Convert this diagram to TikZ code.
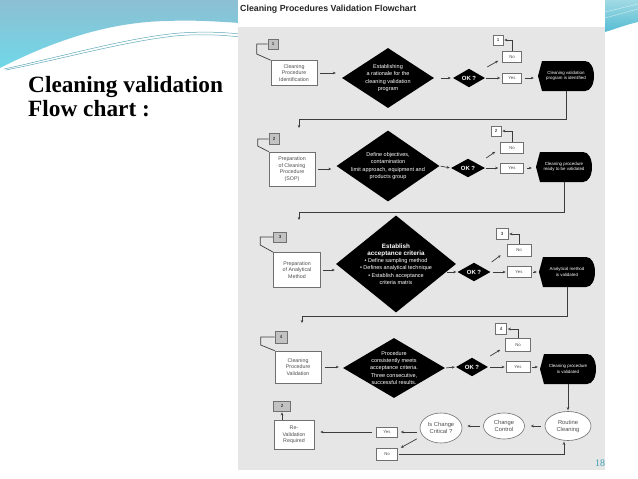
\documentclass[tikz,border=0pt]{standalone}
\usepackage{fontspec}
\setmainfont{Liberation Serif}
\newfontfamily\arialf{Liberation Sans}
\usetikzlibrary{shapes.geometric,arrows.meta,calc}
\definecolor{panel}{HTML}{E6E6E6}
\definecolor{lineg}{HTML}{3C3C3C}
\definecolor{boxg}{HTML}{707070}
\definecolor{txtg}{HTML}{4E4E4E}
\definecolor{numg}{HTML}{C2C2C2}
\definecolor{pgnum}{HTML}{3A9DB0}
\definecolor{swtop}{HTML}{8DBFD3}
\definecolor{swbot}{HTML}{6FD8E8}
\definecolor{swline}{HTML}{5FA9B9}
\definecolor{swrt}{HTML}{A0DAE4}
\definecolor{swrb}{HTML}{55BCD4}
\tikzset{
 proc/.style={draw=boxg, fill=white, line width=0.6pt, inner sep=0pt, align=center, text=txtg, font=\arialf\fontsize{5.3}{6.6}\selectfont},
 numL/.style={draw=boxg, fill=numg, line width=0.6pt, inner sep=0pt, minimum width=10pt, minimum height=10pt, font=\arialf\fontsize{4.5}{5}\selectfont, text=black},
 numR/.style={numL, fill=white},
 yn/.style={draw=boxg, fill=white, line width=0.6pt, inner sep=0pt, font=\arialf\fontsize{4.3}{5}\selectfont, text=txtg},
 dia/.style={diamond, fill=black, inner sep=0pt},
 diatext/.style={text=white, align=center, inner sep=0pt, font=\arialf\fontsize{5.5}{7.2}\selectfont},
 okd/.style={diamond, fill=black, inner sep=0pt, text=white, font=\arialf\bfseries\fontsize{6}{7}\selectfont},
 ell/.style={ellipse, draw=boxg, fill=white, line width=0.6pt, inner sep=0pt, align=center, text=txtg, font=\arialf\fontsize{5.8}{7}\selectfont},
 conn/.style={draw=lineg, line width=0.7pt, -{Stealth[length=3pt,width=2.6pt]}},
 plain/.style={draw=lineg, line width=0.7pt},
 termtext/.style={inner sep=0pt, minimum width=56pt, minimum height=30pt, text=white, align=center, font=\arialf\fontsize{4.4}{5.6}\selectfont},
}
\newcommand\termbox[4]{%
 \begin{scope}[shift={(#2,#3)}]
 \fill[black] (-28,0) -- (-24,-15) -- (19,-15) .. controls (31,-15) and (31,15) .. (19,15) -- (-24,15) -- cycle;
 \node[termtext] (#1) at (0,0) {#4};
 \end{scope}}
\newcommand\bigb[1]{{\bfseries\fontsize{6.3}{7.4}\selectfont #1}}
\begin{document}
\begin{tikzpicture}[x=1pt,y=-1pt]
\useasboundingbox (0,0) rectangle (638,479);
\fill[white] (0,0) rectangle (638,479);
% top-left swoosh
\shade[top color=swtop, bottom color=swbot] (0,0) -- (240,0) -- (240,23) .. controls (210,21) and (190,20) .. (167,21) .. controls (110,22) and (55,40) .. (0,68) -- cycle;
\draw[swline, line width=0.5pt] (4,69) .. controls (60,57) and (130,37) .. (180,33) .. controls (210,31) and (230,33) .. (240,34);
\draw[swline, line width=0.5pt] (6,70) .. controls (62,59) and (130,40) .. (180,35.5) .. controls (210,33.5) and (230,36) .. (240,37);
% top-right swoosh
\shade[top color=swrt, bottom color=swrb] (605,0) -- (638,0) -- (638,22) .. controls (625,25) and (615,29) .. (605,32) -- cycle;
\draw[white, opacity=0.6, line width=0.4pt] (605,12) -- (638,4);
\draw[white, opacity=0.6, line width=0.4pt] (605,18) -- (638,9);
% flowchart image
\fill[white] (238,0) rectangle (605,27);
\fill[panel] (238,27) rectangle (605,470);
\node[anchor=base west, inner sep=0pt, font=\arialf\bfseries\fontsize{8.8}{10}\selectfont, text=black!85] (title) at (240,12) {Cleaning Procedures Validation Flowchart};
% left title
\node[anchor=base west, inner sep=0pt, font=\bfseries\fontsize{23.3}{26}\selectfont] (lt1) at (28,92) {Cleaning validation};
\node[anchor=base west, inner sep=0pt, font=\bfseries\fontsize{23.3}{26}\selectfont] (lt2) at (28,116) {Flow chart :};
\node[anchor=base west, inner sep=0pt, font=\fontsize{10}{12}\selectfont, text=pgnum] (pg) at (595,466) {18};

% ---------- Row 1
\node[numL] (n1) at (273,44) {1};
\node[proc, minimum width=46pt, minimum height=25pt] (p1) at (294,73) {Cleaning\\Procedure\\Identification};
\draw[plain] (n1.west) -- ++(-11,0) -- ++(0,10) -- (p1.north west);
\node[dia, minimum width=92pt, minimum height=60pt] (d1) at (388,78) {};
\node[diatext] (d1t) at (d1) {Establishing\\a rationale for the\\cleaning validation\\program};
\node[okd, minimum width=32pt, minimum height=16pt] (ok1) at (469,78) {OK ?};
\node[yn, minimum width=19pt, minimum height=10pt] (y1) at (512,78) {Yes};
\node[yn, minimum width=19pt, minimum height=11pt] (no1) at (512,57) {No};
\node[numR] (r1) at (498,40) {1};
\termbox{t1}{566}{76}{Cleaning validation\\program is identified}
\draw[conn, shorten <=3pt, shorten >=6pt] (p1.east) -- (p1.east -| d1.west);
\draw[conn, shorten <=7pt, shorten >=2pt] (d1.east) -- (ok1.west);
\draw[conn, shorten <=1pt, shorten >=2pt] (ok1.east) -- (y1.west);
\draw[conn, shorten <=3pt, shorten >=4pt] (y1.east) -- (y1.east -| t1.west);
\draw[conn] ([shift={(2,-11)}]ok1.east) -- ([shift={(-4,-2)}]no1.south west);
\draw[conn, shorten >=1pt] (no1.north) |- (r1.east);
\coordinate (e1) at (299,128);
\draw[conn] (t1.south) -- ++(0,28) -| (e1);

% ---------- Row 2
\node[numL, minimum height=11pt] (n2) at (274,139) {2};
\node[proc, minimum width=46pt, minimum height=34pt] (p2) at (292,169) {Preparation\\of Cleaning\\Procedure\\(SOP)};
\draw[plain] (n2.west) -- ++(-11,0) -- ++(0,7) -- (p2.north west);
\node[dia, minimum width=103pt, minimum height=71pt] (d2) at (388,166) {};
\node[diatext] (d2t) at (d2) {Define objectives,\\contamination\\limit approach, equipment and\\products group};
\node[okd, minimum width=34pt, minimum height=16pt] (ok2) at (468,168) {OK ?};
\node[yn, minimum width=23pt, minimum height=10pt] (y2) at (512,168) {Yes};
\node[yn, minimum width=23pt, minimum height=11pt] (no2) at (512,148) {No};
\node[numR] (r2) at (496,131) {2};
\termbox{t2}{564}{167}{Cleaning procedure\\ready to be validated}
\draw[conn, shorten <=3pt, shorten >=5pt] (p2.east) -- (p2.east -| d2.west);
\draw[conn, shorten <=1pt, shorten >=1pt] (d2.east) -- (ok2.west);
\draw[conn, shorten <=1pt, shorten >=2pt] (ok2.east) -- (y2.west);
\draw[conn, shorten <=3pt, shorten >=4pt] (y2.east) -- (y2.east -| t2.west);
\draw[conn] ([shift={(1,-10)}]ok2.east) -- ([shift={(-5,-2)}]no2.south west);
\draw[conn, shorten >=1pt] (no2.north) |- (r2.east);
\coordinate (e2) at (299,220);
\draw[conn] (t2.south) -- ++(0,30) -| (e2);

% ---------- Row 3
\node[numL, minimum width=13pt] (n3) at (280,237) {3};
\node[proc, minimum width=47pt, minimum height=35pt] (p3) at (297,270) {Preparation\\of Analytical\\Method};
\draw[plain] (n3.west) -- ++(-13,0) -- ++(0,8) -- (p3.north west);
\node[dia, minimum width=120pt, minimum height=97pt] (d3) at (396,264) {};
\node[diatext] (d3t) at (d3) {\bigb{Establish}\\\bigb{acceptance criteria}\\\textbullet\ Define sampling method\\\textbullet\ Defines analytical technique\\\textbullet\ Establish acceptance\\criteria matrix};
\node[okd, minimum width=33pt, minimum height=17pt] (ok3) at (474,272) {OK ?};
\node[yn, minimum width=24pt, minimum height=11pt] (y3) at (519,272) {Yes};
\node[yn, minimum width=24pt, minimum height=12pt] (no3) at (519,250) {No};
\node[numR, minimum width=12pt, minimum height=11pt] (r3) at (502,234) {3};
\termbox{t3}{567}{272}{Analytical method\\is validated}
\draw[conn, shorten <=2pt, shorten >=1pt] (p3.east) -- (p3.east -| d3.west);
\draw[conn, shorten >=1pt] ([shift={(-9,8)}]d3.east) -- (ok3.west);
\draw[conn, shorten <=2pt, shorten >=1pt] (ok3.east) -- (y3.west);
\draw[conn, shorten <=2pt, shorten >=2pt] (y3.east) -- (y3.east -| t3.west);
\draw[conn] ([shift={(1,-10)}]ok3.east) -- ([shift={(-6,-1)}]no3.south west);
\draw[conn, shorten >=1pt] (no3.north) |- (r3.east);
\coordinate (e3) at (302,323);
\draw[conn] (t3.south) -- ++(0,29) -| (e3);

% ---------- Row 4
\node[numL, minimum width=12pt, minimum height=12pt] (n4) at (281,337) {4};
\node[proc, minimum width=46pt, minimum height=32pt] (p4) at (298,367) {Cleaning\\Procedure\\Validation};
\draw[plain] (n4.west) -- ++(-14,0) -- ++(0,8) -- (p4.north west);
\node[dia, minimum width=102pt, minimum height=60pt] (d4) at (394,368) {};
\node[diatext] (d4t) at (d4) {Procedure\\consistently meets\\acceptance criteria.\\Three consecutive,\\successful results.};
\node[okd, minimum width=32pt, minimum height=16pt] (ok4) at (472,367) {OK ?};
\node[yn, minimum width=24pt, minimum height=11pt] (y4) at (518,367) {Yes};
\node[yn, minimum width=25pt, minimum height=13pt] (no4) at (518,345) {No};
\node[numR, minimum width=11pt, minimum height=11pt] (r4) at (501,329) {4};
\termbox{t4}{568}{369}{Cleaning procedure\\is validated}
\draw[conn, shorten <=4pt, shorten >=4pt] (p4.east) -- (p4.east -| d4.west);
\draw[conn, shorten <=1pt, shorten >=1pt] (d4.east) -- (ok4.west);
\draw[conn, shorten <=2pt, shorten >=1pt] (ok4.east) -- (y4.west);
\draw[conn, shorten <=2pt, shorten >=2pt] (y4.east) -- (y4.east -| t4.west);
\draw[conn] ([shift={(2,-11)}]ok4.east) -- ([shift={(-5,-2)}]no4.south west);
\draw[conn, shorten >=1pt] (no4.north) |- (r4.east);

% ---------- Row 5
\node[ell, minimum width=46pt, minimum height=29pt] (rc) at (568,426) {Routine\\Cleaning};
\node[ell, minimum width=41pt, minimum height=26pt] (cc) at (504,426) {Change\\Control};
\node[ell, minimum width=42pt, minimum height=30pt] (icc) at (441,428) {Is Change\\Critical ?};
\node[yn, minimum width=21pt, minimum height=10pt] (y5) at (387,432) {Yes};
\node[yn, minimum width=21pt, minimum height=12pt] (no5) at (387,454) {No};
\node[proc, minimum width=40pt, minimum height=29pt] (rv) at (294,435) {Re-\\Validation\\Required};
\node[numL, minimum width=17pt, minimum height=10pt] (n5) at (282,406) {2};
\draw[conn, shorten >=1pt] (t4.south) -- (rc.north);
\draw[conn, shorten <=4pt, shorten >=6pt] (rc.west) -- (cc.east);
\draw[conn, shorten <=3pt, shorten >=5pt] (cc.west) -- (icc.east |- cc.west);
\draw[conn, shorten <=3pt, shorten >=3pt] (icc.west |- y5.east) -- (y5.east);
\draw[conn, shorten <=4pt, shorten >=6pt] (y5.west) -- (y5.west -| rv.east);
\draw[conn, shorten >=1pt] (n5.south |- rv.north) -- (n5.south);
\draw[conn] ([shift={(-9,0)}]icc.south west) -- ([shift={(3,0)}]no5.north east);
\draw[conn, shorten <=1pt, shorten >=1pt] (no5.east) -| ([xshift=-4pt]rc.south);
\end{tikzpicture}
\end{document}
